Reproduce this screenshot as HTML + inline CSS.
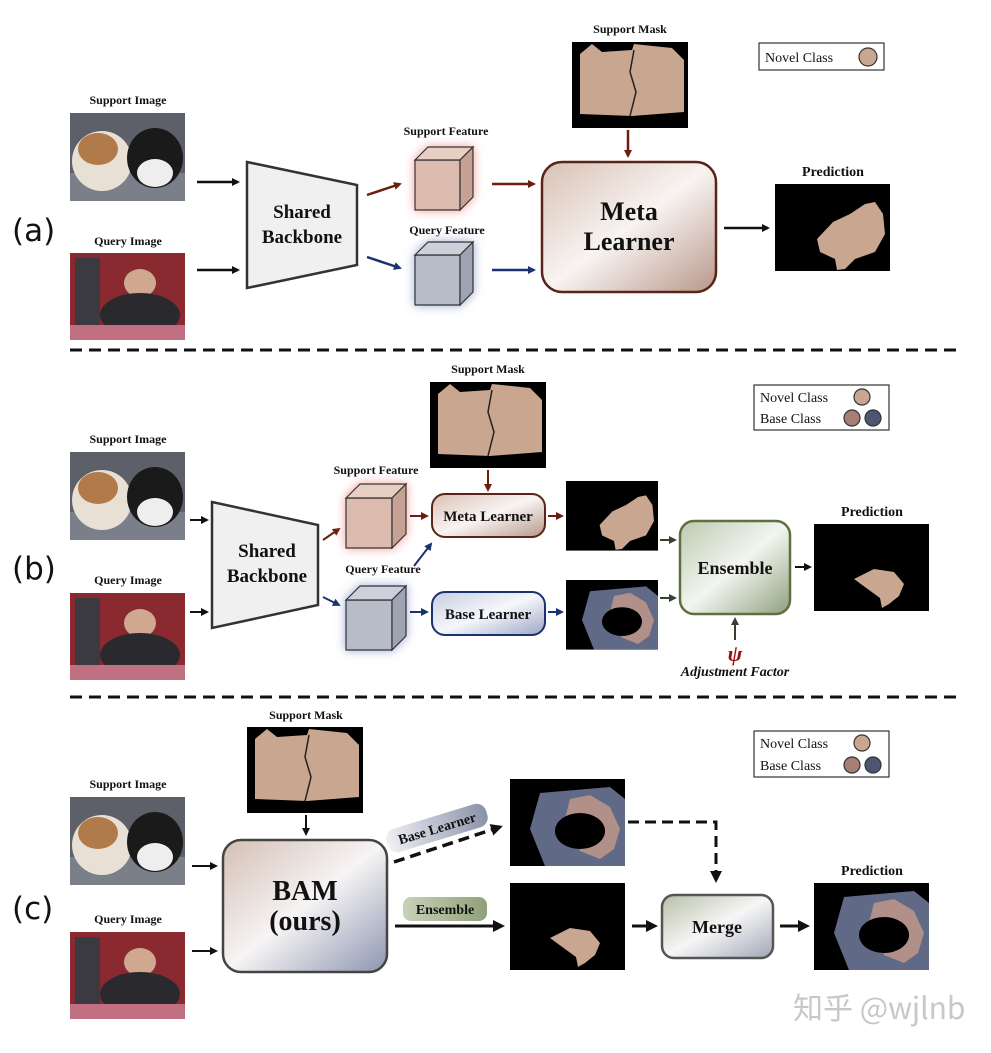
<!DOCTYPE html>
<html><head><meta charset="utf-8"><style>
html,body{margin:0;padding:0;background:#fff;}
svg{display:block;}
text{font-family:"Liberation Serif","DejaVu Serif",serif;font-weight:bold;fill:#111;}
</style></head><body>
<svg width="991" height="1053" viewBox="0 0 991 1053" xmlns="http://www.w3.org/2000/svg">
<defs>
<linearGradient id="gMeta" x1="0" y1="0" x2="1" y2="1"><stop offset="0" stop-color="#d8c1b4"/><stop offset="0.5" stop-color="#f8f4f2"/><stop offset="1" stop-color="#b8978a"/></linearGradient>
<linearGradient id="gBase" x1="0" y1="0" x2="1" y2="1"><stop offset="0" stop-color="#c6cde0"/><stop offset="0.5" stop-color="#f6f7fb"/><stop offset="1" stop-color="#9aa6c4"/></linearGradient>
<linearGradient id="gEns" x1="0" y1="0" x2="1" y2="1"><stop offset="0" stop-color="#bccab0"/><stop offset="0.5" stop-color="#f3f5f0"/><stop offset="1" stop-color="#8ea07c"/></linearGradient>
<linearGradient id="gBAM" x1="0" y1="0" x2="1" y2="1"><stop offset="0" stop-color="#d4bfb4"/><stop offset="0.5" stop-color="#f6f4f4"/><stop offset="1" stop-color="#8d95b0"/></linearGradient>
<linearGradient id="gMerge" x1="0" y1="0" x2="1" y2="1"><stop offset="0" stop-color="#b8bfa8"/><stop offset="0.5" stop-color="#f6f6f6"/><stop offset="1" stop-color="#a0a6b6"/></linearGradient>
<linearGradient id="gLblB" x1="0" y1="0" x2="1" y2="0"><stop offset="0" stop-color="#f0f0f4"/><stop offset="1" stop-color="#8a92aa"/></linearGradient>
<linearGradient id="gLblE" x1="0" y1="0" x2="1" y2="0"><stop offset="0" stop-color="#c8d2b8"/><stop offset="1" stop-color="#90a07a"/></linearGradient>
<filter id="glowR" x="-50%" y="-50%" width="200%" height="200%"><feDropShadow dx="0" dy="0" stdDeviation="5" flood-color="#f08080" flood-opacity="0.8"/></filter>
<filter id="glowB" x="-50%" y="-50%" width="200%" height="200%"><feDropShadow dx="0" dy="0" stdDeviation="5" flood-color="#7080c0" flood-opacity="0.7"/></filter>
<marker id="aK" markerWidth="8" markerHeight="8" refX="6" refY="4" orient="auto" markerUnits="userSpaceOnUse"><path d="M0,0 L8,4 L0,8z" fill="#111"/></marker>
<marker id="aR" markerWidth="8" markerHeight="8" refX="6" refY="4" orient="auto" markerUnits="userSpaceOnUse"><path d="M0,0 L8,4 L0,8z" fill="#6b1e10"/></marker>
<marker id="aN" markerWidth="8" markerHeight="8" refX="6" refY="4" orient="auto" markerUnits="userSpaceOnUse"><path d="M0,0 L8,4 L0,8z" fill="#1a3370"/></marker>
<marker id="aG" markerWidth="8" markerHeight="8" refX="6" refY="4" orient="auto" markerUnits="userSpaceOnUse"><path d="M0,0 L8,4 L0,8z" fill="#3a4030"/></marker>
<marker id="aKb" markerWidth="12" markerHeight="12" refX="9" refY="6" orient="auto" markerUnits="userSpaceOnUse"><path d="M0,0 L12,6 L0,12z" fill="#111"/></marker>

<g id="sup">
<rect x="0" y="0" width="115" height="88" fill="#5d6068"/>
<rect x="0" y="60" width="115" height="28" fill="#7a7f8a"/>
<ellipse cx="32" cy="48" rx="30" ry="30" fill="#e8e0d4"/>
<ellipse cx="28" cy="36" rx="20" ry="16" fill="#b07a4a"/>
<ellipse cx="85" cy="45" rx="28" ry="30" fill="#1a1a1a"/>
<ellipse cx="85" cy="60" rx="18" ry="14" fill="#eeeeee"/>
</g>
<g id="qry">
<rect x="0" y="0" width="115" height="87" fill="#8a2a30"/>
<rect x="5" y="5" width="25" height="80" fill="#3a3a40"/>
<ellipse cx="70" cy="30" rx="16" ry="14" fill="#d0a890"/>
<ellipse cx="70" cy="62" rx="40" ry="22" fill="#2a2a2e"/>
<rect x="0" y="72" width="115" height="15" fill="#c07080"/>
</g>
<g id="mask">
<rect x="0" y="0" width="116" height="86" fill="#000"/>
<path d="M8,12 L20,2 L30,10 L60,8 L62,2 L100,6 L112,18 L112,70 L60,74 L8,72z" fill="#c8a690"/>
<path d="M62,8 L58,30 L64,50 L58,74" stroke="#222" stroke-width="1.5" fill="none"/>
</g>
<g id="predA">
<rect x="0" y="0" width="115" height="87" fill="#000"/>
<path d="M42,55 L58,38 L75,30 L90,20 L100,18 L108,30 L110,50 L100,68 L80,75 L70,85 L62,86 L60,75 L45,68 z" fill="#c8a690"/>
</g>
<g id="baseImg">
<rect x="0" y="0" width="115" height="87" fill="#000"/>
<path d="M30,14 L100,8 L115,20 L115,87 L35,87 L20,50z" fill="#606a86"/>
<path d="M60,20 L80,16 L100,28 L110,50 L104,70 L90,80 L70,72 L55,40z" fill="#b09088"/>
<ellipse cx="70" cy="52" rx="25" ry="18" fill="#000"/>
</g>
<g id="smallPred">
<rect x="0" y="0" width="115" height="87" fill="#000"/>
<path d="M40,55 L60,45 L80,48 L90,60 L85,72 L75,80 L68,84 L66,74 L55,66z" fill="#c8a690"/>
</g>
</defs>

<!-- ========== (a) ========== -->
<text x="12" y="241" font-size="31" style="font-weight:normal;font-family:'DejaVu Sans','Liberation Sans',sans-serif">(a)</text>
<text x="128" y="104" font-size="12" text-anchor="middle">Support Image</text>
<use href="#sup" x="70" y="113"/>
<text x="128" y="245" font-size="12" text-anchor="middle">Query Image</text>
<use href="#qry" x="70" y="253"/>
<line x1="197" y1="182" x2="238" y2="182" stroke="#111" stroke-width="2.5" marker-end="url(#aK)"/>
<line x1="197" y1="270" x2="238" y2="270" stroke="#111" stroke-width="2.5" marker-end="url(#aK)"/>
<path d="M247,162 L357,185 L357,265 L247,288z" fill="#f0f0f0" stroke="#333" stroke-width="2.5"/>
<text x="302" y="218" font-size="19" text-anchor="middle">Shared</text>
<text x="302" y="243" font-size="19" text-anchor="middle">Backbone</text>
<line x1="367" y1="195" x2="400" y2="184" stroke="#6b1e10" stroke-width="2.5" marker-end="url(#aR)"/>
<line x1="367" y1="257" x2="400" y2="268" stroke="#1a3370" stroke-width="2.5" marker-end="url(#aN)"/>
<text x="446" y="135" font-size="12" text-anchor="middle">Support Feature</text>
<g filter="url(#glowR)">
<path d="M415,160 L460,160 L460,210 L415,210z" fill="#dcbcae" stroke="#333" stroke-width="1.2"/>
<path d="M415,160 L428,147 L473,147 L460,160z" fill="#e8cfc4" stroke="#333" stroke-width="1.2"/>
<path d="M460,160 L473,147 L473,197 L460,210z" fill="#c6a294" stroke="#333" stroke-width="1.2"/>
</g>
<text x="447" y="234" font-size="12" text-anchor="middle">Query Feature</text>
<g filter="url(#glowB)">
<path d="M415,255 L460,255 L460,305 L415,305z" fill="#b8bcc8" stroke="#333" stroke-width="1.2"/>
<path d="M415,255 L428,242 L473,242 L460,255z" fill="#cdd0da" stroke="#333" stroke-width="1.2"/>
<path d="M460,255 L473,242 L473,292 L460,305z" fill="#9fa4b4" stroke="#333" stroke-width="1.2"/>
</g>
<line x1="492" y1="184" x2="534" y2="184" stroke="#6b1e10" stroke-width="2.5" marker-end="url(#aR)"/>
<line x1="492" y1="270" x2="534" y2="270" stroke="#1a3370" stroke-width="2.5" marker-end="url(#aN)"/>
<rect x="542" y="162" width="174" height="130" rx="20" fill="url(#gMeta)" stroke="#5a2418" stroke-width="2.5"/>
<text x="629" y="220" font-size="26" text-anchor="middle">Meta</text>
<text x="629" y="250" font-size="26" text-anchor="middle">Learner</text>
<text x="630" y="33" font-size="12" text-anchor="middle">Support Mask</text>
<use href="#mask" x="572" y="42"/>
<line x1="628" y1="130" x2="628" y2="156" stroke="#6b1e10" stroke-width="2.5" marker-end="url(#aR)"/>
<line x1="724" y1="228" x2="768" y2="228" stroke="#111" stroke-width="2.5" marker-end="url(#aK)"/>
<text x="833" y="176" font-size="14" text-anchor="middle">Prediction</text>
<use href="#predA" x="775" y="184"/>
<rect x="759" y="43" width="125" height="27" fill="#fff" stroke="#333" stroke-width="1.2"/>
<text x="765" y="62" font-size="14" style="font-weight:normal">Novel Class</text>
<circle cx="868" cy="57" r="9" fill="#c8a690" stroke="#333" stroke-width="1.2"/>
<line x1="70" y1="350" x2="962" y2="350" stroke="#111" stroke-width="3" stroke-dasharray="12,7"/>

<!-- ========== (b) ========== -->
<text x="12" y="579" font-size="31" style="font-weight:normal;font-family:'DejaVu Sans','Liberation Sans',sans-serif">(b)</text>
<text x="128" y="443" font-size="12" text-anchor="middle">Support Image</text>
<use href="#sup" x="70" y="452"/>
<text x="128" y="584" font-size="12" text-anchor="middle">Query Image</text>
<use href="#qry" x="70" y="593"/>
<line x1="190" y1="520" x2="207" y2="520" stroke="#111" stroke-width="2" marker-end="url(#aK)"/>
<line x1="190" y1="612" x2="207" y2="612" stroke="#111" stroke-width="2" marker-end="url(#aK)"/>
<path d="M212,502 L318,525 L318,605 L212,628z" fill="#f0f0f0" stroke="#333" stroke-width="2.5"/>
<text x="267" y="557" font-size="19" text-anchor="middle">Shared</text>
<text x="267" y="582" font-size="19" text-anchor="middle">Backbone</text>
<line x1="323" y1="540" x2="339" y2="529" stroke="#6b1e10" stroke-width="2" marker-end="url(#aR)"/>
<line x1="323" y1="597" x2="339" y2="605" stroke="#1a3370" stroke-width="2" marker-end="url(#aN)"/>
<text x="376" y="474" font-size="12" text-anchor="middle">Support Feature</text>
<g filter="url(#glowR)">
<path d="M346,498 L392,498 L392,548 L346,548z" fill="#dcbcae" stroke="#333" stroke-width="1.2"/>
<path d="M346,498 L360,484 L406,484 L392,498z" fill="#e8cfc4" stroke="#333" stroke-width="1.2"/>
<path d="M392,498 L406,484 L406,534 L392,548z" fill="#c6a294" stroke="#333" stroke-width="1.2"/>
</g>
<text x="383" y="573" font-size="12" text-anchor="middle">Query Feature</text>
<g filter="url(#glowB)">
<path d="M346,600 L392,600 L392,650 L346,650z" fill="#b8bcc8" stroke="#333" stroke-width="1.2"/>
<path d="M346,600 L360,586 L406,586 L392,600z" fill="#cdd0da" stroke="#333" stroke-width="1.2"/>
<path d="M392,600 L406,586 L406,636 L392,650z" fill="#9fa4b4" stroke="#333" stroke-width="1.2"/>
</g>
<line x1="410" y1="516" x2="427" y2="516" stroke="#6b1e10" stroke-width="2" marker-end="url(#aR)"/>
<line x1="414" y1="566" x2="431" y2="544" stroke="#1a3370" stroke-width="2" marker-end="url(#aN)"/>
<line x1="410" y1="612" x2="427" y2="612" stroke="#1a3370" stroke-width="2" marker-end="url(#aN)"/>
<rect x="432" y="494" width="113" height="43" rx="13" fill="url(#gMeta)" stroke="#5a2418" stroke-width="2"/>
<text x="488" y="521" font-size="15" text-anchor="middle">Meta Learner</text>
<rect x="432" y="592" width="113" height="43" rx="13" fill="url(#gBase)" stroke="#1a3370" stroke-width="2"/>
<text x="488" y="619" font-size="15" text-anchor="middle">Base Learner</text>
<text x="488" y="373" font-size="12" text-anchor="middle">Support Mask</text>
<use href="#mask" x="430" y="382"/>
<line x1="488" y1="470" x2="488" y2="490" stroke="#6b1e10" stroke-width="2" marker-end="url(#aR)"/>
<line x1="548" y1="516" x2="562" y2="516" stroke="#6b1e10" stroke-width="2" marker-end="url(#aR)"/>
<line x1="548" y1="612" x2="562" y2="612" stroke="#1a3370" stroke-width="2" marker-end="url(#aN)"/>
<g transform="translate(566,481) scale(0.8)"><use href="#predA"/></g>
<g transform="translate(566,580) scale(0.8)"><use href="#baseImg"/></g>
<line x1="660" y1="540" x2="675" y2="540" stroke="#3a4030" stroke-width="2" marker-end="url(#aG)"/>
<line x1="660" y1="598" x2="675" y2="598" stroke="#3a4030" stroke-width="2" marker-end="url(#aG)"/>
<rect x="680" y="521" width="110" height="93" rx="14" fill="url(#gEns)" stroke="#5c7040" stroke-width="2.5"/>
<text x="735" y="574" font-size="18" text-anchor="middle">Ensemble</text>
<line x1="735" y1="640" x2="735" y2="619" stroke="#3a4030" stroke-width="2" marker-end="url(#aG)"/>
<text x="735" y="661" font-size="22" text-anchor="middle" style="fill:#9a1010;font-style:italic">ψ</text>
<text x="735" y="676" font-size="14" text-anchor="middle" style="font-style:italic">Adjustment Factor</text>
<line x1="795" y1="567" x2="810" y2="567" stroke="#111" stroke-width="2" marker-end="url(#aK)"/>
<text x="872" y="516" font-size="14" text-anchor="middle">Prediction</text>
<use href="#smallPred" x="814" y="524"/>
<rect x="754" y="385" width="135" height="45" fill="#fff" stroke="#333" stroke-width="1.2"/>
<text x="760" y="402" font-size="14" style="font-weight:normal">Novel Class</text>
<text x="760" y="423" font-size="14" style="font-weight:normal">Base Class</text>
<circle cx="862" cy="397" r="8" fill="#c8a690" stroke="#333" stroke-width="1.2"/>
<circle cx="852" cy="418" r="8" fill="#a67e74" stroke="#333" stroke-width="1.2"/>
<circle cx="873" cy="418" r="8" fill="#4c5670" stroke="#333" stroke-width="1.2"/>
<line x1="70" y1="697" x2="962" y2="697" stroke="#111" stroke-width="3" stroke-dasharray="12,7"/>

<!-- ========== (c) ========== -->
<text x="12" y="919" font-size="31" style="font-weight:normal;font-family:'DejaVu Sans','Liberation Sans',sans-serif">(c)</text>
<text x="128" y="788" font-size="12" text-anchor="middle">Support Image</text>
<use href="#sup" x="70" y="797"/>
<text x="128" y="923" font-size="12" text-anchor="middle">Query Image</text>
<use href="#qry" x="70" y="932"/>
<line x1="192" y1="866" x2="216" y2="866" stroke="#111" stroke-width="2" marker-end="url(#aK)"/>
<line x1="192" y1="951" x2="216" y2="951" stroke="#111" stroke-width="2" marker-end="url(#aK)"/>
<text x="306" y="719" font-size="12" text-anchor="middle">Support Mask</text>
<use href="#mask" x="247" y="727"/>
<line x1="306" y1="815" x2="306" y2="834" stroke="#111" stroke-width="2" marker-end="url(#aK)"/>
<rect x="223" y="840" width="164" height="132" rx="18" fill="url(#gBAM)" stroke="#444" stroke-width="2.5"/>
<text x="305" y="900" font-size="28" text-anchor="middle">BAM</text>
<text x="305" y="930" font-size="28" text-anchor="middle">(ours)</text>
<line x1="394" y1="862" x2="500" y2="827" stroke="#111" stroke-width="3.5" stroke-dasharray="11,6" marker-end="url(#aKb)"/>
<g transform="translate(437,828) rotate(-17)">
<rect x="-52" y="-12" width="104" height="24" rx="10" fill="url(#gLblB)"/>
<text x="0" y="5" font-size="14" text-anchor="middle">Base Learner</text>
</g>
<rect x="403" y="897" width="84" height="24" rx="8" fill="url(#gLblE)"/>
<text x="445" y="914" font-size="14" text-anchor="middle">Ensemble</text>
<line x1="395" y1="926" x2="502" y2="926" stroke="#111" stroke-width="3" marker-end="url(#aKb)"/>
<use href="#baseImg" x="510" y="779"/>
<use href="#smallPred" x="510" y="883"/>
<path d="M628,822 L716,822 L716,880" fill="none" stroke="#111" stroke-width="3" stroke-dasharray="11,6" marker-end="url(#aKb)"/>
<line x1="632" y1="926" x2="655" y2="926" stroke="#111" stroke-width="3" marker-end="url(#aKb)"/>
<rect x="662" y="895" width="111" height="63" rx="12" fill="url(#gMerge)" stroke="#555" stroke-width="2.5"/>
<text x="717" y="933" font-size="18" text-anchor="middle">Merge</text>
<line x1="780" y1="926" x2="807" y2="926" stroke="#111" stroke-width="3" marker-end="url(#aKb)"/>
<text x="872" y="875" font-size="14" text-anchor="middle">Prediction</text>
<use href="#baseImg" x="814" y="883"/>
<rect x="754" y="731" width="135" height="46" fill="#fff" stroke="#333" stroke-width="1.2"/>
<text x="760" y="748" font-size="14" style="font-weight:normal">Novel Class</text>
<text x="760" y="770" font-size="14" style="font-weight:normal">Base Class</text>
<circle cx="862" cy="743" r="8" fill="#c8a690" stroke="#333" stroke-width="1.2"/>
<circle cx="852" cy="765" r="8" fill="#a67e74" stroke="#333" stroke-width="1.2"/>
<circle cx="873" cy="765" r="8" fill="#4c5670" stroke="#333" stroke-width="1.2"/>
<text x="793" y="1019" font-size="30" style="font-weight:normal;fill:#c8c8c8;font-family:'Noto Sans CJK SC','Liberation Sans',sans-serif">知乎 @wjlnb</text>
</svg>
</body></html>
